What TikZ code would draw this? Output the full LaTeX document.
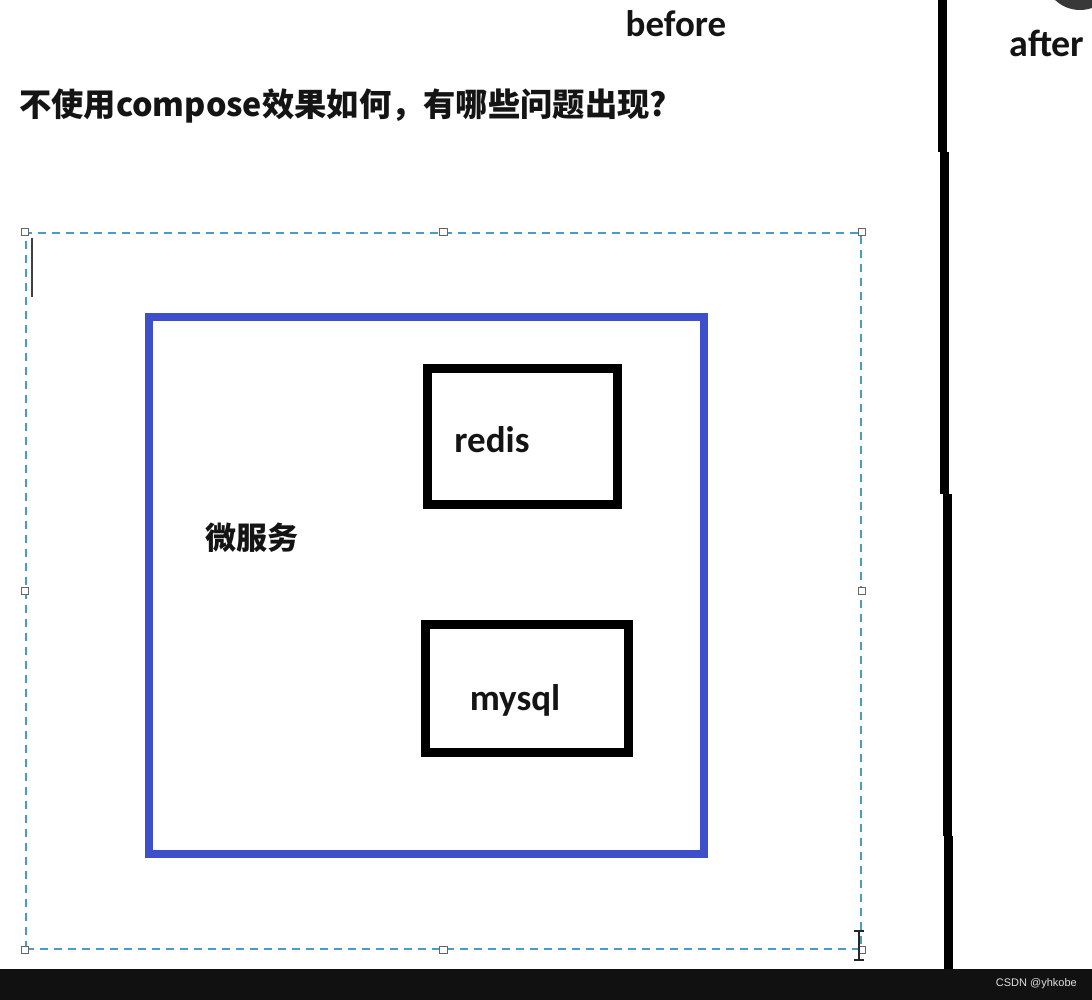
\documentclass[tikz,border=0pt]{standalone}
\usepackage{fontspec}
\usetikzlibrary{calc}
\newfontfamily\cjk{Noto Sans CJK SC}
\newfontfamily\carl{Carlito}
\newfontfamily\arialf{Liberation Sans}
\definecolor{msblue}{HTML}{3D4FCB}
\definecolor{selblue}{HTML}{4A9CC8}
\definecolor{barc}{HTML}{111111}
\definecolor{txt}{HTML}{141414}
\begin{document}
\begin{tikzpicture}[x=1pt,y=-1pt,
  box/.style={draw=black, line width=9pt, inner sep=0pt, fill=none},
  lbl/.style={inner sep=0pt, text=txt, font=\carl\bfseries\fontsize{37}{37}\selectfont},
  cjklbl/.style={inner sep=0pt, text=txt, font=\cjk\bfseries\fontsize{31}{31}\selectfont},
  handle/.style={draw=black!60, fill=white, line width=0.9pt, minimum size=7.5pt, inner sep=0pt},
  divider/.style={line width=9pt, black}
]
\useasboundingbox (0,0) rectangle (1092,1000);
\fill[white] (0,0) rectangle (1092,1000);

% dark circle top right
\fill[black!78] (1080,-26) circle (36);

% headings
\node[lbl, anchor=base] (before) at (676,37) {before};
\node[lbl, anchor=base, font=\carl\bfseries\fontsize{38}{38}\selectfont] (after) at (1047,57) {after};
\node[inner sep=0pt, anchor=base west, text=txt, font=\cjk\bfseries\fontsize{32.3}{32.3}\selectfont] (title) at (19,117) {不使用compose效果如何，有哪些问题出现?};

% divider
\coordinate (d0) at (942,-5);
\coordinate (d1) at (942,152);
\coordinate (d2) at (944.5,152);
\coordinate (d3) at (944.5,494);
\coordinate (d4) at (947,494);
\coordinate (d5) at (947,836);
\coordinate (d6) at (948.5,836);
\coordinate (d7) at (948.5,975);
\draw[divider] (d0) -- (d1);
\draw[divider] (d2) -- (d3);
\draw[divider] (d4) -- (d5);
\draw[divider] (d6) -- (d7);

% selection frame
\node[draw=selblue, line width=1.8pt, dash pattern=on 8pt off 6pt, inner sep=0pt,
      minimum width=835pt, minimum height=716pt] (sel) at (443.5,591) {};
\foreach \a in {north west,north,north east,west,east,south west,south,south east}
  \node[handle] at (sel.\a) {};

% text cursor top-left
\coordinate (c1) at (32,238);
\coordinate (c2) at (32,297);
\draw[line width=2pt, black!75] (c1) -- (c2);

% microservice container
\node[draw=msblue, line width=8pt, inner sep=0pt, minimum width=555pt, minimum height=537pt] (ms) at (426.5,585.5) {};
\node[cjklbl] (mslabel) at (252,538) {微服务};

% redis
\node[box, minimum width=190pt, minimum height=136pt] (redis) at (522.5,436) {};
\node[lbl, anchor=base] (redislbl) at (492,452) {redis};

% mysql
\node[box, minimum width=203pt, minimum height=128pt] (mysql) at (527,688.5) {};
\node[lbl, anchor=base] (mysqllbl) at (515,710) {mysql};

% I-beam cursor bottom right
\coordinate (i1) at (859,931);
\coordinate (i2) at (859,960);
\draw[line width=1.6pt, black!85] (i1) -- (i2);
\draw[line width=1.6pt, black!85] ($(i1)+(-5,0)$) -- ($(i1)+(5,0)$);
\draw[line width=1.6pt, black!85] ($(i2)+(-5,0)$) -- ($(i2)+(5,0)$);

% bottom bar
\fill[barc] (0,969) rectangle (1092,1000);
\node[inner sep=0pt, anchor=east, text=black!12, font=\arialf\fontsize{11}{11}\selectfont] (wm) at (1077,984) {CSDN @yhkobe};
\end{tikzpicture}
\end{document}
